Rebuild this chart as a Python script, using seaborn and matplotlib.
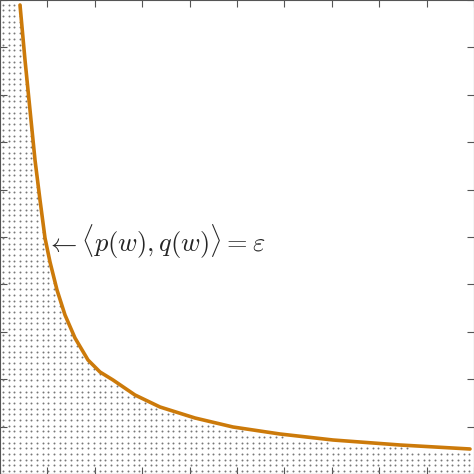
import numpy as np
import matplotlib
matplotlib.use("Agg")
import matplotlib.pyplot as plt
import seaborn as sns

sns.set_style("white")
plt.rcParams["mathtext.fontset"] = "cm"

# curve, in pixel-ish units of the 474 px frame
px = [20, 25, 30, 35, 40, 45, 50, 57, 65, 75, 88, 100, 113, 135, 160,
      195, 233, 280, 333, 400, 470]
py = [5, 60, 110, 160, 200, 238, 262, 290, 315, 338, 360, 372, 380, 395, 407,
      418, 427, 434, 440, 445, 449]
curve_x = [p / 474 for p in px]
curve_y = [1 - p / 474 for p in py]

fig = plt.figure(figsize=(4.74, 4.74), dpi=100)
ax = fig.add_axes([0, 0, 1, 1])

# dotted texture under the curve
gx, gy = np.meshgrid(np.arange(0.006, 1.0, 0.012), np.arange(0.006, 1.0, 0.012))
gx, gy = gx.ravel(), gy.ravel()
below = (gx < curve_x[0]) | (gy < np.interp(gx, curve_x, curve_y) - 0.006)
ax.scatter(gx[below], gy[below], s=2.0, color="#777777", linewidths=0)

sns.lineplot(x=curve_x, y=curve_y, ax=ax, color="#cc7a0a", linewidth=2.6,
             sort=False)

ax.text(0.098, 0.49, r"$\leftarrow \langle p(w), q(w)\rangle = \varepsilon$",
        fontsize=19, va="center", ha="left")

ax.set_xlim(0, 1)
ax.set_ylim(0, 1)
ticks = np.linspace(0, 1, 11)
ax.set_xticks(ticks)
ax.set_yticks(ticks)
ax.set_xticklabels([])
ax.set_yticklabels([])
ax.tick_params(direction="in", length=5, color="#555555", top=True, right=True,
               bottom=True, left=True)
for s in ax.spines.values():
    s.set_color("#555555")
fig.savefig("out.png", dpi=100)
